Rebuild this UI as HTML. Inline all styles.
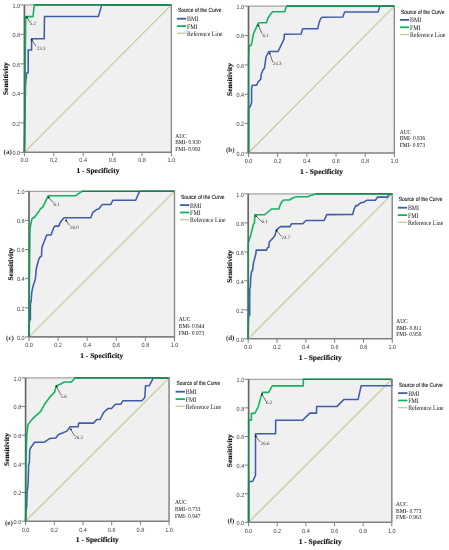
<!DOCTYPE html>
<html><head><meta charset="utf-8"><title>ROC curves</title>
<style>
html,body{margin:0;padding:0;background:#fff;}
body{width:449px;height:550px;overflow:hidden;}
svg{display:block;}
text{text-rendering:geometricPrecision;}
.tk{font-family:"Liberation Sans",sans-serif;font-size:6.2px;fill:#444;}
.an{font-family:"Liberation Serif",serif;font-size:5px;fill:#333;}
.ti{font-family:"Liberation Serif",serif;font-weight:bold;fill:#111;stroke:#111;stroke-width:0.15px;}
.tx{font-size:7.3px;}
.ty{font-size:7px;}
.pl{font-family:"Liberation Serif",serif;font-size:7px;font-weight:bold;fill:#333;}
.lt{font-family:"Liberation Sans",sans-serif;font-size:5.9px;fill:#111;stroke:#222;stroke-width:0.12px;}
.li{font-family:"Liberation Serif",serif;font-size:6.8px;fill:#111;}
.au{font-family:"Liberation Serif",serif;font-size:6px;fill:#111;}
</style></head><body>
<svg width="449" height="550" viewBox="0 0 449 550">
<rect width="449" height="550" fill="#fff"/>
<g>
<rect x="24.4" y="4.9" width="147" height="147.4" fill="#f0f0f0"/>
<polyline points="24.4,4.9 171.4,4.9 171.4,152.3" fill="none" stroke="#a4a4a4" stroke-width="1.3"/>
<polyline points="24.4,4.9 24.4,152.3 171.4,152.3" fill="none" stroke="#808080" stroke-width="1.6"/>
<line x1="20.4" y1="152.3" x2="24.4" y2="152.3" stroke="#808080" stroke-width="1"/>
<line x1="24.4" y1="152.3" x2="24.4" y2="156.3" stroke="#808080" stroke-width="1"/>
<text x="20.1" y="155.1" text-anchor="end" class="tk" textLength="7.7" lengthAdjust="spacingAndGlyphs">0.0</text>
<text x="24.4" y="161.8" text-anchor="middle" class="tk" textLength="7.7" lengthAdjust="spacingAndGlyphs">0.0</text>
<line x1="20.4" y1="122.82" x2="24.4" y2="122.82" stroke="#808080" stroke-width="1"/>
<line x1="53.8" y1="152.3" x2="53.8" y2="156.3" stroke="#808080" stroke-width="1"/>
<text x="20.1" y="125.62" text-anchor="end" class="tk" textLength="7.7" lengthAdjust="spacingAndGlyphs">0.2</text>
<text x="53.8" y="161.8" text-anchor="middle" class="tk" textLength="7.7" lengthAdjust="spacingAndGlyphs">0.2</text>
<line x1="20.4" y1="93.34" x2="24.4" y2="93.34" stroke="#808080" stroke-width="1"/>
<line x1="83.2" y1="152.3" x2="83.2" y2="156.3" stroke="#808080" stroke-width="1"/>
<text x="20.1" y="96.14" text-anchor="end" class="tk" textLength="7.7" lengthAdjust="spacingAndGlyphs">0.4</text>
<text x="83.2" y="161.8" text-anchor="middle" class="tk" textLength="7.7" lengthAdjust="spacingAndGlyphs">0.4</text>
<line x1="20.4" y1="63.86" x2="24.4" y2="63.86" stroke="#808080" stroke-width="1"/>
<line x1="112.6" y1="152.3" x2="112.6" y2="156.3" stroke="#808080" stroke-width="1"/>
<text x="20.1" y="66.66" text-anchor="end" class="tk" textLength="7.7" lengthAdjust="spacingAndGlyphs">0.6</text>
<text x="112.6" y="161.8" text-anchor="middle" class="tk" textLength="7.7" lengthAdjust="spacingAndGlyphs">0.6</text>
<line x1="20.4" y1="34.38" x2="24.4" y2="34.38" stroke="#808080" stroke-width="1"/>
<line x1="142" y1="152.3" x2="142" y2="156.3" stroke="#808080" stroke-width="1"/>
<text x="20.1" y="37.18" text-anchor="end" class="tk" textLength="7.7" lengthAdjust="spacingAndGlyphs">0.8</text>
<text x="142" y="161.8" text-anchor="middle" class="tk" textLength="7.7" lengthAdjust="spacingAndGlyphs">0.8</text>
<line x1="20.4" y1="4.9" x2="24.4" y2="4.9" stroke="#808080" stroke-width="1"/>
<line x1="171.4" y1="152.3" x2="171.4" y2="156.3" stroke="#808080" stroke-width="1"/>
<text x="20.1" y="7.7" text-anchor="end" class="tk" textLength="7.7" lengthAdjust="spacingAndGlyphs">1.0</text>
<text x="171.4" y="161.8" text-anchor="middle" class="tk" textLength="7.7" lengthAdjust="spacingAndGlyphs">1.0</text>
<line x1="24.4" y1="152.3" x2="171.4" y2="4.9" stroke="#c6c896" stroke-width="1.2"/>
<polyline points="24.4,152.3 25.5,85 26.6,73.2 28.2,72.5 28.2,50 31.6,50 31.6,38.8 44.2,38.8 44.5,16.4 98.4,16.4 101.8,4.9 171.4,4.9" fill="none" stroke="#3f5ca8" stroke-width="1.55" stroke-linejoin="round"/>
<polyline points="24.4,152.3 25.7,16.6 33,16.6 34.3,4.9 171.4,4.9" fill="none" stroke="#12b462" stroke-width="1.6" stroke-linejoin="round"/>
<line x1="24.4" y1="4.9" x2="24.4" y2="152.3" stroke="rgba(60,60,60,0.4)" stroke-width="1.4"/>
<line x1="34.3" y1="4.9" x2="171.4" y2="4.9" stroke="rgba(50,50,50,0.45)" stroke-width="1.2"/>
<line x1="171.4" y1="4.3" x2="171.4" y2="152.3" stroke="#888" stroke-width="1.15"/>
<line x1="26.9" y1="17.4" x2="29.8" y2="22.3" stroke="#333" stroke-width="0.7"/>
<circle cx="26.9" cy="17.4" r="0.9" fill="#111"/>
<text x="29.8" y="25" class="an">5.2</text>
<line x1="31.8" y1="39.8" x2="35.9" y2="46" stroke="#333" stroke-width="0.7"/>
<circle cx="31.8" cy="39.8" r="0.9" fill="#111"/>
<text x="36.7" y="49.5" class="an">23.3</text>
<text x="97.9" y="172.6" text-anchor="middle" class="ti tx" textLength="43" lengthAdjust="spacingAndGlyphs">1 - Specificity</text>
<text transform="translate(8,78.6) rotate(-90)" x="0" y="0" text-anchor="middle" class="ti ty" textLength="32.8" lengthAdjust="spacingAndGlyphs">Sensitivity</text>
<text x="3.6" y="154.1" class="pl">(a)</text>
<text x="177.9" y="12.3" class="lt" textLength="43.6" lengthAdjust="spacingAndGlyphs">Source of the Curve</text>
<line x1="176.9" y1="18.7" x2="186.2" y2="18.7" stroke="#3f5ca8" stroke-width="1.8"/>
<text x="187" y="21.2" class="li" textLength="11.1" lengthAdjust="spacingAndGlyphs">BMI</text>
<line x1="176.9" y1="26.1" x2="186.2" y2="26.1" stroke="#12b462" stroke-width="1.8"/>
<text x="187" y="28.6" class="li" textLength="10.6" lengthAdjust="spacingAndGlyphs">FMI</text>
<line x1="176.9" y1="33.3" x2="186.2" y2="33.3" stroke="#c6c896" stroke-width="1.3"/>
<text x="187" y="35.8" class="li" textLength="35.4" lengthAdjust="spacingAndGlyphs">Reference Line</text>
<text x="175.2" y="137.5" class="au" textLength="11.6" lengthAdjust="spacingAndGlyphs">AUC</text>
<text x="175.2" y="143.7" class="au" textLength="25.4" lengthAdjust="spacingAndGlyphs">BMI- 0.930</text>
<text x="175.2" y="150.7" class="au" textLength="25.4" lengthAdjust="spacingAndGlyphs">FMI- 0.992</text>
</g>
<g>
<rect x="248.5" y="6.1" width="145.9" height="146.9" fill="#f0f0f0"/>
<polyline points="248.5,6.1 394.4,6.1 394.4,153" fill="none" stroke="#a4a4a4" stroke-width="1.3"/>
<polyline points="248.5,6.1 248.5,153 394.4,153" fill="none" stroke="#808080" stroke-width="1.6"/>
<line x1="244.5" y1="153" x2="248.5" y2="153" stroke="#808080" stroke-width="1"/>
<line x1="248.5" y1="153" x2="248.5" y2="157" stroke="#808080" stroke-width="1"/>
<text x="244.2" y="155.8" text-anchor="end" class="tk" textLength="7.7" lengthAdjust="spacingAndGlyphs">0.0</text>
<text x="248.5" y="162.9" text-anchor="middle" class="tk" textLength="7.7" lengthAdjust="spacingAndGlyphs">0.0</text>
<line x1="244.5" y1="123.62" x2="248.5" y2="123.62" stroke="#808080" stroke-width="1"/>
<line x1="277.68" y1="153" x2="277.68" y2="157" stroke="#808080" stroke-width="1"/>
<text x="244.2" y="126.42" text-anchor="end" class="tk" textLength="7.7" lengthAdjust="spacingAndGlyphs">0.2</text>
<text x="277.68" y="162.9" text-anchor="middle" class="tk" textLength="7.7" lengthAdjust="spacingAndGlyphs">0.2</text>
<line x1="244.5" y1="94.24" x2="248.5" y2="94.24" stroke="#808080" stroke-width="1"/>
<line x1="306.86" y1="153" x2="306.86" y2="157" stroke="#808080" stroke-width="1"/>
<text x="244.2" y="97.04" text-anchor="end" class="tk" textLength="7.7" lengthAdjust="spacingAndGlyphs">0.4</text>
<text x="306.86" y="162.9" text-anchor="middle" class="tk" textLength="7.7" lengthAdjust="spacingAndGlyphs">0.4</text>
<line x1="244.5" y1="64.86" x2="248.5" y2="64.86" stroke="#808080" stroke-width="1"/>
<line x1="336.04" y1="153" x2="336.04" y2="157" stroke="#808080" stroke-width="1"/>
<text x="244.2" y="67.66" text-anchor="end" class="tk" textLength="7.7" lengthAdjust="spacingAndGlyphs">0.6</text>
<text x="336.04" y="162.9" text-anchor="middle" class="tk" textLength="7.7" lengthAdjust="spacingAndGlyphs">0.6</text>
<line x1="244.5" y1="35.48" x2="248.5" y2="35.48" stroke="#808080" stroke-width="1"/>
<line x1="365.22" y1="153" x2="365.22" y2="157" stroke="#808080" stroke-width="1"/>
<text x="244.2" y="38.28" text-anchor="end" class="tk" textLength="7.7" lengthAdjust="spacingAndGlyphs">0.8</text>
<text x="365.22" y="162.9" text-anchor="middle" class="tk" textLength="7.7" lengthAdjust="spacingAndGlyphs">0.8</text>
<line x1="244.5" y1="6.1" x2="248.5" y2="6.1" stroke="#808080" stroke-width="1"/>
<line x1="394.4" y1="153" x2="394.4" y2="157" stroke="#808080" stroke-width="1"/>
<text x="244.2" y="8.9" text-anchor="end" class="tk" textLength="7.7" lengthAdjust="spacingAndGlyphs">1.0</text>
<text x="394.4" y="162.9" text-anchor="middle" class="tk" textLength="7.7" lengthAdjust="spacingAndGlyphs">1.0</text>
<line x1="248.5" y1="153" x2="394.4" y2="6.1" stroke="#c6c896" stroke-width="1.2"/>
<polyline points="248.5,153 248.6,108 249.3,107.4 250.4,106.4 251.6,102.3 251.6,88.3 252.3,85.2 256.7,85.2 258,82 260.7,79.4 261.3,74 263,70 264.5,68 265.3,62 266,57 268.7,51.5 278.1,51.5 284.1,38.8 284.3,34.3 301.1,34.1 302.6,28.8 317.7,28.8 318.9,23.3 320.7,18.4 322.6,17.2 342.8,17 344.6,11.9 378.1,11.9 379.8,6.1 394.4,6.1" fill="none" stroke="#3f5ca8" stroke-width="1.55" stroke-linejoin="round"/>
<polyline points="248.5,153 248.6,60 249,47.5 249.5,45.6 251.3,45.2 252.2,40.8 253,35.6 253.9,32.7 255.6,29.2 257.5,24.6 259,22.8 266.5,22.8 268,18 270,15 272.5,11.8 284.6,11.8 286.6,6.1 394.4,6.1" fill="none" stroke="#12b462" stroke-width="1.6" stroke-linejoin="round"/>
<line x1="248.5" y1="6.1" x2="248.5" y2="153" stroke="rgba(60,60,60,0.4)" stroke-width="1.4"/>
<line x1="286.6" y1="6.1" x2="394.4" y2="6.1" stroke="rgba(50,50,50,0.45)" stroke-width="1.2"/>
<line x1="394.4" y1="5.5" x2="394.4" y2="153" stroke="#888" stroke-width="1.15"/>
<line x1="258.5" y1="25.5" x2="262" y2="33.6" stroke="#333" stroke-width="0.7"/>
<circle cx="258.5" cy="25.5" r="0.9" fill="#111"/>
<text x="262.5" y="36.8" class="an">6.1</text>
<line x1="269.7" y1="53.4" x2="272.7" y2="62" stroke="#333" stroke-width="0.7"/>
<circle cx="269.7" cy="53.4" r="0.9" fill="#111"/>
<text x="272.7" y="65.3" class="an">24.3</text>
<text x="321.45" y="173.7" text-anchor="middle" class="ti tx" textLength="43" lengthAdjust="spacingAndGlyphs">1 - Specificity</text>
<text transform="translate(232.1,79.55) rotate(-90)" x="0" y="0" text-anchor="middle" class="ti ty" textLength="32.8" lengthAdjust="spacingAndGlyphs">Sensitivity</text>
<text x="226" y="152.4" class="pl">(b)</text>
<text x="400.9" y="13.5" class="lt" textLength="43.6" lengthAdjust="spacingAndGlyphs">Source of the Curve</text>
<line x1="399.9" y1="19.9" x2="409.2" y2="19.9" stroke="#3f5ca8" stroke-width="1.8"/>
<text x="410" y="22.4" class="li" textLength="11.1" lengthAdjust="spacingAndGlyphs">BMI</text>
<line x1="399.9" y1="27.3" x2="409.2" y2="27.3" stroke="#12b462" stroke-width="1.8"/>
<text x="410" y="29.8" class="li" textLength="10.6" lengthAdjust="spacingAndGlyphs">FMI</text>
<line x1="399.9" y1="34.5" x2="409.2" y2="34.5" stroke="#c6c896" stroke-width="1.3"/>
<text x="410" y="37" class="li" textLength="35.4" lengthAdjust="spacingAndGlyphs">Reference Line</text>
<text x="399.7" y="133.9" class="au" textLength="11.6" lengthAdjust="spacingAndGlyphs">AUC</text>
<text x="399.7" y="140.3" class="au" textLength="25.4" lengthAdjust="spacingAndGlyphs">BMI- 0.836</text>
<text x="399.7" y="146.9" class="au" textLength="25.4" lengthAdjust="spacingAndGlyphs">FMI- 0.973</text>
</g>
<g>
<rect x="29" y="191.3" width="145.5" height="145.6" fill="#f0f0f0"/>
<polyline points="29,191.3 174.5,191.3 174.5,336.9" fill="none" stroke="#a4a4a4" stroke-width="1.3"/>
<polyline points="29,191.3 29,336.9 174.5,336.9" fill="none" stroke="#808080" stroke-width="1.6"/>
<line x1="25" y1="336.9" x2="29" y2="336.9" stroke="#808080" stroke-width="1"/>
<line x1="29" y1="336.9" x2="29" y2="340.9" stroke="#808080" stroke-width="1"/>
<text x="24.7" y="339.7" text-anchor="end" class="tk" textLength="7.7" lengthAdjust="spacingAndGlyphs">0.0</text>
<text x="29" y="347.4" text-anchor="middle" class="tk" textLength="7.7" lengthAdjust="spacingAndGlyphs">0.0</text>
<line x1="25" y1="307.78" x2="29" y2="307.78" stroke="#808080" stroke-width="1"/>
<line x1="58.1" y1="336.9" x2="58.1" y2="340.9" stroke="#808080" stroke-width="1"/>
<text x="24.7" y="310.58" text-anchor="end" class="tk" textLength="7.7" lengthAdjust="spacingAndGlyphs">0.2</text>
<text x="58.1" y="347.4" text-anchor="middle" class="tk" textLength="7.7" lengthAdjust="spacingAndGlyphs">0.2</text>
<line x1="25" y1="278.66" x2="29" y2="278.66" stroke="#808080" stroke-width="1"/>
<line x1="87.2" y1="336.9" x2="87.2" y2="340.9" stroke="#808080" stroke-width="1"/>
<text x="24.7" y="281.46" text-anchor="end" class="tk" textLength="7.7" lengthAdjust="spacingAndGlyphs">0.4</text>
<text x="87.2" y="347.4" text-anchor="middle" class="tk" textLength="7.7" lengthAdjust="spacingAndGlyphs">0.4</text>
<line x1="25" y1="249.54" x2="29" y2="249.54" stroke="#808080" stroke-width="1"/>
<line x1="116.3" y1="336.9" x2="116.3" y2="340.9" stroke="#808080" stroke-width="1"/>
<text x="24.7" y="252.34" text-anchor="end" class="tk" textLength="7.7" lengthAdjust="spacingAndGlyphs">0.6</text>
<text x="116.3" y="347.4" text-anchor="middle" class="tk" textLength="7.7" lengthAdjust="spacingAndGlyphs">0.6</text>
<line x1="25" y1="220.42" x2="29" y2="220.42" stroke="#808080" stroke-width="1"/>
<line x1="145.4" y1="336.9" x2="145.4" y2="340.9" stroke="#808080" stroke-width="1"/>
<text x="24.7" y="223.22" text-anchor="end" class="tk" textLength="7.7" lengthAdjust="spacingAndGlyphs">0.8</text>
<text x="145.4" y="347.4" text-anchor="middle" class="tk" textLength="7.7" lengthAdjust="spacingAndGlyphs">0.8</text>
<line x1="25" y1="191.3" x2="29" y2="191.3" stroke="#808080" stroke-width="1"/>
<line x1="174.5" y1="336.9" x2="174.5" y2="340.9" stroke="#808080" stroke-width="1"/>
<text x="24.7" y="194.1" text-anchor="end" class="tk" textLength="7.7" lengthAdjust="spacingAndGlyphs">1.0</text>
<text x="174.5" y="347.4" text-anchor="middle" class="tk" textLength="7.7" lengthAdjust="spacingAndGlyphs">1.0</text>
<line x1="29" y1="336.9" x2="174.5" y2="191.3" stroke="#c6c896" stroke-width="1.2"/>
<polyline points="29,336.9 29.3,322 30.4,319.3 30.4,303.4 31.1,301.6 31.7,292.7 32.9,286.8 35.2,279.7 35.8,275 36,270.7 36.9,266.2 38.7,259.8 39.6,257.5 41.5,256.2 41.9,247.5 45.5,238 46.9,234.9 51,234.9 53.4,228.5 54.7,226.1 58.8,226.1 60.8,221.4 64,217.7 90.7,217.7 92.7,212.7 96.8,209.4 98.8,209 102.1,204.6 110.8,204.5 112.8,200.3 135.7,200.3 139.6,191.3 174.5,191.3" fill="none" stroke="#3f5ca8" stroke-width="1.55" stroke-linejoin="round"/>
<polyline points="29,336.9 29.2,300 29.6,260 30,230 30.6,225 32,218.7 34.7,217 39.4,210.7 40.7,208.5 42.7,207.4 48,196.2 48.5,195.8 75.4,195.8 82,191.3 174.5,191.3" fill="none" stroke="#12b462" stroke-width="1.6" stroke-linejoin="round"/>
<line x1="29" y1="191.3" x2="29" y2="336.9" stroke="rgba(60,60,60,0.4)" stroke-width="1.4"/>
<line x1="82" y1="191.3" x2="174.5" y2="191.3" stroke="rgba(50,50,50,0.45)" stroke-width="1.2"/>
<line x1="174.5" y1="190.7" x2="174.5" y2="336.9" stroke="#888" stroke-width="1.15"/>
<line x1="48.7" y1="197.4" x2="53.4" y2="202.7" stroke="#333" stroke-width="0.7"/>
<circle cx="48.7" cy="197.4" r="0.9" fill="#111"/>
<text x="53.4" y="206.2" class="an">6.1</text>
<line x1="66.1" y1="220.5" x2="69.4" y2="225.4" stroke="#333" stroke-width="0.7"/>
<circle cx="66.1" cy="220.5" r="0.9" fill="#111"/>
<text x="70.1" y="228.9" class="an">26.0</text>
<text x="101.75" y="358.2" text-anchor="middle" class="ti tx" textLength="43" lengthAdjust="spacingAndGlyphs">1 - Specificity</text>
<text transform="translate(12.6,264.1) rotate(-90)" x="0" y="0" text-anchor="middle" class="ti ty" textLength="32.8" lengthAdjust="spacingAndGlyphs">Sensitivity</text>
<text x="6.1" y="340.3" class="pl">(c)</text>
<text x="181" y="198.7" class="lt" textLength="43.6" lengthAdjust="spacingAndGlyphs">Source of the Curve</text>
<line x1="180" y1="205.1" x2="189.3" y2="205.1" stroke="#3f5ca8" stroke-width="1.8"/>
<text x="190.1" y="207.6" class="li" textLength="11.1" lengthAdjust="spacingAndGlyphs">BMI</text>
<line x1="180" y1="212.5" x2="189.3" y2="212.5" stroke="#12b462" stroke-width="1.8"/>
<text x="190.1" y="215" class="li" textLength="10.6" lengthAdjust="spacingAndGlyphs">FMI</text>
<line x1="180" y1="219.7" x2="189.3" y2="219.7" stroke="#c6c896" stroke-width="1.3"/>
<text x="190.1" y="222.2" class="li" textLength="35.4" lengthAdjust="spacingAndGlyphs">Reference Line</text>
<text x="178.8" y="321.3" class="au" textLength="11.6" lengthAdjust="spacingAndGlyphs">AUC</text>
<text x="178.8" y="327.5" class="au" textLength="25.4" lengthAdjust="spacingAndGlyphs">BMI- 0.844</text>
<text x="178.8" y="334.6" class="au" textLength="25.4" lengthAdjust="spacingAndGlyphs">FMI- 0.973</text>
</g>
<g>
<rect x="248.2" y="193.9" width="144.1" height="144.9" fill="#f0f0f0"/>
<polyline points="248.2,193.9 392.3,193.9 392.3,338.8" fill="none" stroke="#a4a4a4" stroke-width="1.3"/>
<polyline points="248.2,193.9 248.2,338.8 392.3,338.8" fill="none" stroke="#808080" stroke-width="1.6"/>
<line x1="244.2" y1="338.8" x2="248.2" y2="338.8" stroke="#808080" stroke-width="1"/>
<line x1="248.2" y1="338.8" x2="248.2" y2="342.8" stroke="#808080" stroke-width="1"/>
<text x="243.9" y="341.6" text-anchor="end" class="tk" textLength="7.7" lengthAdjust="spacingAndGlyphs">0.0</text>
<text x="248.2" y="349.3" text-anchor="middle" class="tk" textLength="7.7" lengthAdjust="spacingAndGlyphs">0.0</text>
<line x1="244.2" y1="309.82" x2="248.2" y2="309.82" stroke="#808080" stroke-width="1"/>
<line x1="277.02" y1="338.8" x2="277.02" y2="342.8" stroke="#808080" stroke-width="1"/>
<text x="243.9" y="312.62" text-anchor="end" class="tk" textLength="7.7" lengthAdjust="spacingAndGlyphs">0.2</text>
<text x="277.02" y="349.3" text-anchor="middle" class="tk" textLength="7.7" lengthAdjust="spacingAndGlyphs">0.2</text>
<line x1="244.2" y1="280.84" x2="248.2" y2="280.84" stroke="#808080" stroke-width="1"/>
<line x1="305.84" y1="338.8" x2="305.84" y2="342.8" stroke="#808080" stroke-width="1"/>
<text x="243.9" y="283.64" text-anchor="end" class="tk" textLength="7.7" lengthAdjust="spacingAndGlyphs">0.4</text>
<text x="305.84" y="349.3" text-anchor="middle" class="tk" textLength="7.7" lengthAdjust="spacingAndGlyphs">0.4</text>
<line x1="244.2" y1="251.86" x2="248.2" y2="251.86" stroke="#808080" stroke-width="1"/>
<line x1="334.66" y1="338.8" x2="334.66" y2="342.8" stroke="#808080" stroke-width="1"/>
<text x="243.9" y="254.66" text-anchor="end" class="tk" textLength="7.7" lengthAdjust="spacingAndGlyphs">0.6</text>
<text x="334.66" y="349.3" text-anchor="middle" class="tk" textLength="7.7" lengthAdjust="spacingAndGlyphs">0.6</text>
<line x1="244.2" y1="222.88" x2="248.2" y2="222.88" stroke="#808080" stroke-width="1"/>
<line x1="363.48" y1="338.8" x2="363.48" y2="342.8" stroke="#808080" stroke-width="1"/>
<text x="243.9" y="225.68" text-anchor="end" class="tk" textLength="7.7" lengthAdjust="spacingAndGlyphs">0.8</text>
<text x="363.48" y="349.3" text-anchor="middle" class="tk" textLength="7.7" lengthAdjust="spacingAndGlyphs">0.8</text>
<line x1="244.2" y1="193.9" x2="248.2" y2="193.9" stroke="#808080" stroke-width="1"/>
<line x1="392.3" y1="338.8" x2="392.3" y2="342.8" stroke="#808080" stroke-width="1"/>
<text x="243.9" y="196.7" text-anchor="end" class="tk" textLength="7.7" lengthAdjust="spacingAndGlyphs">1.0</text>
<text x="392.3" y="349.3" text-anchor="middle" class="tk" textLength="7.7" lengthAdjust="spacingAndGlyphs">1.0</text>
<line x1="248.2" y1="338.8" x2="392.3" y2="193.9" stroke="#c6c896" stroke-width="1.2"/>
<polyline points="248.2,338.8 248.6,316.5 249.7,315 249.7,288.5 250.3,287.5 250.7,278 251.6,271.3 252.6,270.4 253.5,262.7 255.8,254.1 256.2,250.1 266.6,250.1 267.2,247.9 268.8,247.3 269.4,241.7 272.7,238.4 275,235.6 276.1,230.6 277.7,228.9 280.5,226.6 290,226.6 291.5,223.8 302.7,223.8 306,220.5 324.1,220.5 326.8,214.6 352.7,214.5 354,209.4 355.8,205.6 357.4,205.6 359.4,203.8 361.4,202.4 363.4,202.4 366.7,200.3 375.4,200.3 377.4,197.1 387.4,197.1 388.8,194.7 392.3,193.9" fill="none" stroke="#3f5ca8" stroke-width="1.55" stroke-linejoin="round"/>
<polyline points="248.2,338.8 248.3,243 251,233.9 253.4,224.1 254.4,223.4 254.8,214.7 264.7,214.7 268,212 271.4,209 278.8,209 280,205.4 282,201.4 284.1,200 289.5,200 292.4,198 296.7,196.7 307.4,196.7 310,195.8 316.1,193.9 392.3,193.9" fill="none" stroke="#12b462" stroke-width="1.6" stroke-linejoin="round"/>
<line x1="248.2" y1="193.9" x2="248.2" y2="338.8" stroke="rgba(60,60,60,0.4)" stroke-width="1.4"/>
<line x1="316.1" y1="193.9" x2="392.3" y2="193.9" stroke="rgba(50,50,50,0.45)" stroke-width="1.2"/>
<line x1="392.3" y1="193.3" x2="392.3" y2="338.8" stroke="#888" stroke-width="1.15"/>
<line x1="256" y1="216.1" x2="261.4" y2="221.4" stroke="#333" stroke-width="0.7"/>
<circle cx="256" cy="216.1" r="0.9" fill="#111"/>
<text x="261.4" y="223.3" class="an">6.1</text>
<line x1="276.6" y1="230.6" x2="281.1" y2="236.2" stroke="#333" stroke-width="0.7"/>
<circle cx="276.6" cy="230.6" r="0.9" fill="#111"/>
<text x="281.4" y="239.3" class="an">24.7</text>
<text x="320.25" y="360.1" text-anchor="middle" class="ti tx" textLength="43" lengthAdjust="spacingAndGlyphs">1 - Specificity</text>
<text transform="translate(231.8,266.35) rotate(-90)" x="0" y="0" text-anchor="middle" class="ti ty" textLength="32.8" lengthAdjust="spacingAndGlyphs">Sensitivity</text>
<text x="225.9" y="340.3" class="pl">(d)</text>
<text x="398.8" y="201.3" class="lt" textLength="43.6" lengthAdjust="spacingAndGlyphs">Source of the Curve</text>
<line x1="397.8" y1="207.7" x2="407.1" y2="207.7" stroke="#3f5ca8" stroke-width="1.8"/>
<text x="407.9" y="210.2" class="li" textLength="11.1" lengthAdjust="spacingAndGlyphs">BMI</text>
<line x1="397.8" y1="215.1" x2="407.1" y2="215.1" stroke="#12b462" stroke-width="1.8"/>
<text x="407.9" y="217.6" class="li" textLength="10.6" lengthAdjust="spacingAndGlyphs">FMI</text>
<line x1="397.8" y1="222.3" x2="407.1" y2="222.3" stroke="#c6c896" stroke-width="1.3"/>
<text x="407.9" y="224.8" class="li" textLength="35.4" lengthAdjust="spacingAndGlyphs">Reference Line</text>
<text x="396.2" y="323.1" class="au" textLength="11.6" lengthAdjust="spacingAndGlyphs">AUC</text>
<text x="396.2" y="329.6" class="au" textLength="25.4" lengthAdjust="spacingAndGlyphs">BMI- 0.811</text>
<text x="396.2" y="336.2" class="au" textLength="25.4" lengthAdjust="spacingAndGlyphs">FMI- 0.958</text>
</g>
<g>
<rect x="25.6" y="377.9" width="143.5" height="143.3" fill="#f0f0f0"/>
<polyline points="25.6,377.9 169.1,377.9 169.1,521.2" fill="none" stroke="#a4a4a4" stroke-width="1.3"/>
<polyline points="25.6,377.9 25.6,521.2 169.1,521.2" fill="none" stroke="#808080" stroke-width="1.6"/>
<line x1="21.6" y1="521.2" x2="25.6" y2="521.2" stroke="#808080" stroke-width="1"/>
<line x1="25.6" y1="521.2" x2="25.6" y2="525.2" stroke="#808080" stroke-width="1"/>
<text x="21.3" y="524" text-anchor="end" class="tk" textLength="7.7" lengthAdjust="spacingAndGlyphs">0.0</text>
<text x="25.6" y="532.3" text-anchor="middle" class="tk" textLength="7.7" lengthAdjust="spacingAndGlyphs">0.0</text>
<line x1="21.6" y1="492.54" x2="25.6" y2="492.54" stroke="#808080" stroke-width="1"/>
<line x1="54.3" y1="521.2" x2="54.3" y2="525.2" stroke="#808080" stroke-width="1"/>
<text x="21.3" y="495.34" text-anchor="end" class="tk" textLength="7.7" lengthAdjust="spacingAndGlyphs">0.2</text>
<text x="54.3" y="532.3" text-anchor="middle" class="tk" textLength="7.7" lengthAdjust="spacingAndGlyphs">0.2</text>
<line x1="21.6" y1="463.88" x2="25.6" y2="463.88" stroke="#808080" stroke-width="1"/>
<line x1="83" y1="521.2" x2="83" y2="525.2" stroke="#808080" stroke-width="1"/>
<text x="21.3" y="466.68" text-anchor="end" class="tk" textLength="7.7" lengthAdjust="spacingAndGlyphs">0.4</text>
<text x="83" y="532.3" text-anchor="middle" class="tk" textLength="7.7" lengthAdjust="spacingAndGlyphs">0.4</text>
<line x1="21.6" y1="435.22" x2="25.6" y2="435.22" stroke="#808080" stroke-width="1"/>
<line x1="111.7" y1="521.2" x2="111.7" y2="525.2" stroke="#808080" stroke-width="1"/>
<text x="21.3" y="438.02" text-anchor="end" class="tk" textLength="7.7" lengthAdjust="spacingAndGlyphs">0.6</text>
<text x="111.7" y="532.3" text-anchor="middle" class="tk" textLength="7.7" lengthAdjust="spacingAndGlyphs">0.6</text>
<line x1="21.6" y1="406.56" x2="25.6" y2="406.56" stroke="#808080" stroke-width="1"/>
<line x1="140.4" y1="521.2" x2="140.4" y2="525.2" stroke="#808080" stroke-width="1"/>
<text x="21.3" y="409.36" text-anchor="end" class="tk" textLength="7.7" lengthAdjust="spacingAndGlyphs">0.8</text>
<text x="140.4" y="532.3" text-anchor="middle" class="tk" textLength="7.7" lengthAdjust="spacingAndGlyphs">0.8</text>
<line x1="21.6" y1="377.9" x2="25.6" y2="377.9" stroke="#808080" stroke-width="1"/>
<line x1="169.1" y1="521.2" x2="169.1" y2="525.2" stroke="#808080" stroke-width="1"/>
<text x="21.3" y="380.7" text-anchor="end" class="tk" textLength="7.7" lengthAdjust="spacingAndGlyphs">1.0</text>
<text x="169.1" y="532.3" text-anchor="middle" class="tk" textLength="7.7" lengthAdjust="spacingAndGlyphs">1.0</text>
<line x1="25.6" y1="521.2" x2="169.1" y2="377.9" stroke="#c6c896" stroke-width="1.2"/>
<polyline points="25.6,521.2 25.9,510 26.6,508 27.1,493 28.2,482 28.6,465 29.4,462 29.7,450.1 30.7,447.8 34.6,442.3 44,442.3 49.6,438.6 55.7,438.1 58.5,434.5 63,432.8 66.9,431.1 70,426.8 78,426.8 78.7,423.1 93.4,423.1 96.8,419.5 100.1,419.5 103.4,412.8 108.1,408.4 111.5,408.4 115.3,404.2 120.9,404.2 123,400.7 141.9,400.7 144.8,397.4 145.5,385.8 149.1,385.8 152,380.7 153.2,377.9 169.1,377.9" fill="none" stroke="#3f5ca8" stroke-width="1.55" stroke-linejoin="round"/>
<polyline points="25.6,521.2 25.8,470 26.2,452.4 26.8,434.3 27.7,426.7 28,424.8 31.4,420.1 35.4,416.1 40.7,411.4 44.7,404.1 50.7,396.1 54.7,392 56.1,386 60.8,384 64.3,382 71.4,382 74.9,377.9 169.1,377.9" fill="none" stroke="#12b462" stroke-width="1.6" stroke-linejoin="round"/>
<line x1="25.6" y1="377.9" x2="25.6" y2="521.2" stroke="rgba(60,60,60,0.4)" stroke-width="1.4"/>
<line x1="74.9" y1="377.9" x2="169.1" y2="377.9" stroke="rgba(50,50,50,0.45)" stroke-width="1.2"/>
<line x1="169.1" y1="377.3" x2="169.1" y2="521.2" stroke="#888" stroke-width="1.15"/>
<line x1="56.5" y1="386.4" x2="60.8" y2="394.7" stroke="#333" stroke-width="0.7"/>
<circle cx="56.5" cy="386.4" r="0.9" fill="#111"/>
<text x="60.5" y="397.8" class="an">5.6</text>
<line x1="70.8" y1="429.3" x2="74.5" y2="436" stroke="#333" stroke-width="0.7"/>
<circle cx="70.8" cy="429.3" r="0.9" fill="#111"/>
<text x="74.3" y="439.3" class="an">26.2</text>
<text x="97.35" y="541.7" text-anchor="middle" class="ti tx" textLength="43" lengthAdjust="spacingAndGlyphs">1 - Specificity</text>
<text transform="translate(9.2,449.55) rotate(-90)" x="0" y="0" text-anchor="middle" class="ti ty" textLength="32.8" lengthAdjust="spacingAndGlyphs">Sensitivity</text>
<text x="5" y="524.8" class="pl">(e)</text>
<text x="176.6" y="385.3" class="lt" textLength="43.6" lengthAdjust="spacingAndGlyphs">Source of the Curve</text>
<line x1="175.6" y1="391.7" x2="184.9" y2="391.7" stroke="#3f5ca8" stroke-width="1.8"/>
<text x="185.7" y="394.2" class="li" textLength="11.1" lengthAdjust="spacingAndGlyphs">BMI</text>
<line x1="175.6" y1="399.1" x2="184.9" y2="399.1" stroke="#12b462" stroke-width="1.8"/>
<text x="185.7" y="401.6" class="li" textLength="10.6" lengthAdjust="spacingAndGlyphs">FMI</text>
<line x1="175.6" y1="406.3" x2="184.9" y2="406.3" stroke="#c6c896" stroke-width="1.3"/>
<text x="185.7" y="408.8" class="li" textLength="35.4" lengthAdjust="spacingAndGlyphs">Reference Line</text>
<text x="175" y="504.3" class="au" textLength="11.6" lengthAdjust="spacingAndGlyphs">AUC</text>
<text x="175" y="511.3" class="au" textLength="25.4" lengthAdjust="spacingAndGlyphs">BMI- 0.733</text>
<text x="175" y="517.8" class="au" textLength="25.4" lengthAdjust="spacingAndGlyphs">FMI- 0.947</text>
</g>
<g>
<rect x="248.6" y="379.3" width="143.2" height="143" fill="#f0f0f0"/>
<polyline points="248.6,379.3 391.8,379.3 391.8,522.3" fill="none" stroke="#a4a4a4" stroke-width="1.3"/>
<polyline points="248.6,379.3 248.6,522.3 391.8,522.3" fill="none" stroke="#808080" stroke-width="1.6"/>
<line x1="244.6" y1="522.3" x2="248.6" y2="522.3" stroke="#808080" stroke-width="1"/>
<line x1="248.6" y1="522.3" x2="248.6" y2="526.3" stroke="#808080" stroke-width="1"/>
<text x="244.3" y="525.1" text-anchor="end" class="tk" textLength="7.7" lengthAdjust="spacingAndGlyphs">0.0</text>
<text x="248.6" y="533.1" text-anchor="middle" class="tk" textLength="7.7" lengthAdjust="spacingAndGlyphs">0.0</text>
<line x1="244.6" y1="493.7" x2="248.6" y2="493.7" stroke="#808080" stroke-width="1"/>
<line x1="277.24" y1="522.3" x2="277.24" y2="526.3" stroke="#808080" stroke-width="1"/>
<text x="244.3" y="496.5" text-anchor="end" class="tk" textLength="7.7" lengthAdjust="spacingAndGlyphs">0.2</text>
<text x="277.24" y="533.1" text-anchor="middle" class="tk" textLength="7.7" lengthAdjust="spacingAndGlyphs">0.2</text>
<line x1="244.6" y1="465.1" x2="248.6" y2="465.1" stroke="#808080" stroke-width="1"/>
<line x1="305.88" y1="522.3" x2="305.88" y2="526.3" stroke="#808080" stroke-width="1"/>
<text x="244.3" y="467.9" text-anchor="end" class="tk" textLength="7.7" lengthAdjust="spacingAndGlyphs">0.4</text>
<text x="305.88" y="533.1" text-anchor="middle" class="tk" textLength="7.7" lengthAdjust="spacingAndGlyphs">0.4</text>
<line x1="244.6" y1="436.5" x2="248.6" y2="436.5" stroke="#808080" stroke-width="1"/>
<line x1="334.52" y1="522.3" x2="334.52" y2="526.3" stroke="#808080" stroke-width="1"/>
<text x="244.3" y="439.3" text-anchor="end" class="tk" textLength="7.7" lengthAdjust="spacingAndGlyphs">0.6</text>
<text x="334.52" y="533.1" text-anchor="middle" class="tk" textLength="7.7" lengthAdjust="spacingAndGlyphs">0.6</text>
<line x1="244.6" y1="407.9" x2="248.6" y2="407.9" stroke="#808080" stroke-width="1"/>
<line x1="363.16" y1="522.3" x2="363.16" y2="526.3" stroke="#808080" stroke-width="1"/>
<text x="244.3" y="410.7" text-anchor="end" class="tk" textLength="7.7" lengthAdjust="spacingAndGlyphs">0.8</text>
<text x="363.16" y="533.1" text-anchor="middle" class="tk" textLength="7.7" lengthAdjust="spacingAndGlyphs">0.8</text>
<line x1="244.6" y1="379.3" x2="248.6" y2="379.3" stroke="#808080" stroke-width="1"/>
<line x1="391.8" y1="522.3" x2="391.8" y2="526.3" stroke="#808080" stroke-width="1"/>
<text x="244.3" y="382.1" text-anchor="end" class="tk" textLength="7.7" lengthAdjust="spacingAndGlyphs">1.0</text>
<text x="391.8" y="533.1" text-anchor="middle" class="tk" textLength="7.7" lengthAdjust="spacingAndGlyphs">1.0</text>
<line x1="248.6" y1="522.3" x2="391.8" y2="379.3" stroke="#c6c896" stroke-width="1.2"/>
<polyline points="248.6,522.3 248.7,481.5 252.6,481.5 255.5,475.3 255.5,433.7 275.6,433.7 275.7,420.3 302.6,420.3 309.8,413.1 316.6,413.1 316.6,406.5 337,406.4 344,399.4 358.1,399.4 361.2,385.7 391.8,385.7 391.8,379.3" fill="none" stroke="#3f5ca8" stroke-width="1.55" stroke-linejoin="round"/>
<polyline points="248.6,522.3 248.7,420.1 251.4,420.1 251.4,413.4 254.7,413.4 258,407.4 261.4,395.4 262.4,392.4 268.7,392.4 272.2,385.9 303.3,385.9 303.3,379.3 391.8,379.3" fill="none" stroke="#12b462" stroke-width="1.6" stroke-linejoin="round"/>
<line x1="248.6" y1="379.3" x2="248.6" y2="522.3" stroke="rgba(60,60,60,0.4)" stroke-width="1.4"/>
<line x1="303.3" y1="379.3" x2="391.8" y2="379.3" stroke="rgba(50,50,50,0.45)" stroke-width="1.2"/>
<line x1="391.8" y1="378.7" x2="391.8" y2="522.3" stroke="#888" stroke-width="1.15"/>
<line x1="262" y1="394.3" x2="266" y2="401.4" stroke="#333" stroke-width="0.7"/>
<circle cx="262" cy="394.3" r="0.9" fill="#111"/>
<text x="266" y="403.8" class="an">6.2</text>
<line x1="255.8" y1="436.2" x2="260.2" y2="442" stroke="#333" stroke-width="0.7"/>
<circle cx="255.8" cy="436.2" r="0.9" fill="#111"/>
<text x="260.8" y="445.4" class="an">26.6</text>
<text x="320.2" y="543.6" text-anchor="middle" class="ti tx" textLength="43" lengthAdjust="spacingAndGlyphs">1 - Specificity</text>
<text transform="translate(232.2,450.8) rotate(-90)" x="0" y="0" text-anchor="middle" class="ti ty" textLength="32.8" lengthAdjust="spacingAndGlyphs">Sensitivity</text>
<text x="227.4" y="523.4" class="pl">(f)</text>
<text x="399.1" y="386.7" class="lt" textLength="43.6" lengthAdjust="spacingAndGlyphs">Source of the Curve</text>
<line x1="398.1" y1="393.1" x2="407.4" y2="393.1" stroke="#3f5ca8" stroke-width="1.8"/>
<text x="408.2" y="395.6" class="li" textLength="11.1" lengthAdjust="spacingAndGlyphs">BMI</text>
<line x1="398.1" y1="400.5" x2="407.4" y2="400.5" stroke="#12b462" stroke-width="1.8"/>
<text x="408.2" y="403" class="li" textLength="10.6" lengthAdjust="spacingAndGlyphs">FMI</text>
<line x1="398.1" y1="407.7" x2="407.4" y2="407.7" stroke="#c6c896" stroke-width="1.3"/>
<text x="408.2" y="410.2" class="li" textLength="35.4" lengthAdjust="spacingAndGlyphs">Reference Line</text>
<text x="396.1" y="506.2" class="au" textLength="11.6" lengthAdjust="spacingAndGlyphs">AUC</text>
<text x="396.1" y="513" class="au" textLength="25.4" lengthAdjust="spacingAndGlyphs">BMI- 0.773</text>
<text x="396.1" y="519.1" class="au" textLength="25.4" lengthAdjust="spacingAndGlyphs">FMI- 0.963</text>
</g>
</svg>
</body></html>
